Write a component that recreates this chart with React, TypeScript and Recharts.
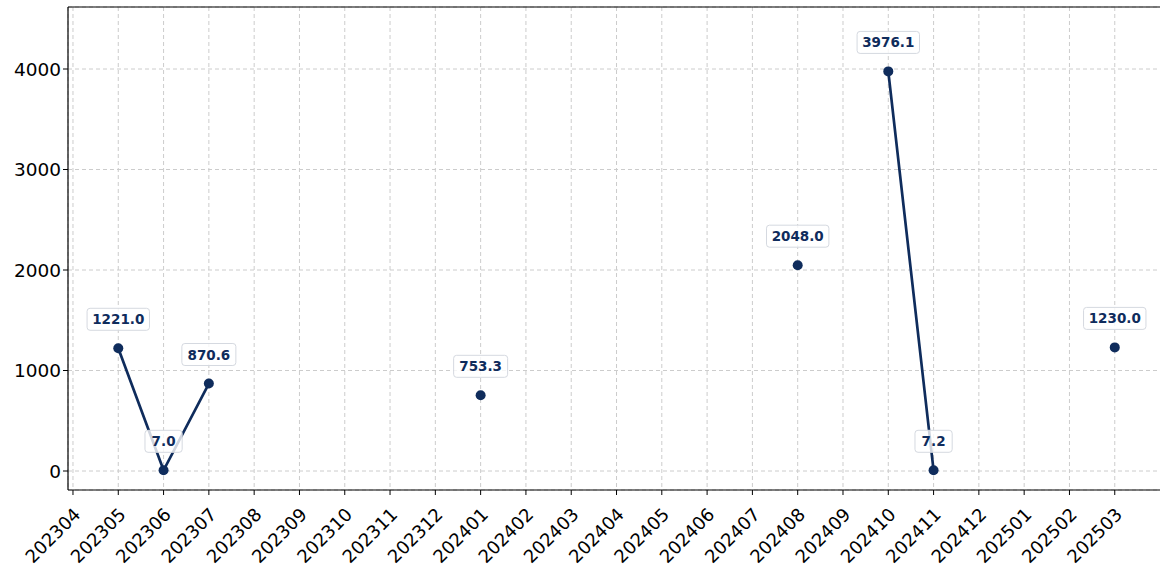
import React from 'react';
import { LineChart, Line, XAxis, YAxis, CartesianGrid, LabelList, ReferenceLine } from 'recharts';

const months = [
  '202304', '202305', '202306', '202307', '202308', '202309', '202310', '202311',
  '202312', '202401', '202402', '202403', '202404', '202405', '202406', '202407',
  '202408', '202409', '202410', '202411', '202412', '202501', '202502', '202503',
];

const values: (number | null)[] = [
  null, 1221.0, 7.0, 870.6, null, null, null, null,
  null, 753.3, null, null, null, null, null, null,
  2048.0, null, 3976.1, 7.2, null, null, null, 1230.0,
];

const yTicks = [0, 1000, 2000, 3000, 4000];

const data = months.map((m, i) => ({ idx: i, month: m, value: values[i] }));

const NAVY = '#0f2c5c';
const FONT = 'DejaVu Sans, sans-serif';
const Y_MAX = 4617;

const XTick = (props: any) => {
  const { x, y, payload } = props;
  return (
    <text
      x={0}
      y={0}
      transform={`translate(${x - 1}, ${y + 9}) rotate(-45)`}
      textAnchor="end"
      dominantBaseline="hanging"
      fontSize={18}
      fontFamily={FONT}
      fill="#000"
    >
      {months[payload.value]}
    </text>
  );
};

const ValueLabel = (props: any) => {
  const { x, y, value } = props;
  if (value === null || value === undefined) return null;
  const txt = Number(value).toFixed(1);
  const w = txt.length * 8.4 + 12;
  const h = 22;
  const cy = y - 29;
  return (
    <g>
      <rect
        x={x - w / 2}
        y={cy - h / 2}
        width={w}
        height={h}
        rx={3}
        fill="#ffffff"
        fillOpacity={0.8}
        stroke="#d5d9e0"
        strokeWidth={1}
      />
      <text
        x={x}
        y={cy}
        textAnchor="middle"
        dominantBaseline="central"
        fontSize={13.5}
        fontWeight="bold"
        fontFamily={FONT}
        fill={NAVY}
      >
        {txt}
      </text>
    </g>
  );
};

export default function App() {
  return (
    <div style={{ position: 'absolute', left: 0, top: 0, width: 1160, height: 566, background: '#fff', overflow: 'hidden' }}>
      <LineChart
        width={1175}
        height={566}
        data={data}
        margin={{ top: 7, right: 0, bottom: 0, left: 8 }}
      >
        <CartesianGrid stroke="#cccccc" strokeDasharray="4 3" />
        <XAxis
          dataKey="idx"
          type="number"
          domain={[-0.11, 24.33]}
          ticks={months.map((_, i) => i)}
          interval={0}
          tick={<XTick />}
          tickLine={{ stroke: '#000' }}
          tickSize={5}
          axisLine={{ stroke: '#000', strokeWidth: 1.2 }}
          height={76}
          allowDataOverflow
        />
        <YAxis
          type="number"
          domain={[-189, Y_MAX]}
          ticks={yTicks}
          interval={0}
          width={60}
          tick={{ fontSize: 18.5, fontFamily: FONT, fill: '#000' }}
          tickLine={{ stroke: '#000' }}
          tickSize={5}
          axisLine={{ stroke: '#000', strokeWidth: 1.2 }}
          allowDataOverflow
        />
        <ReferenceLine y={Y_MAX} stroke="#000" strokeWidth={1.2} ifOverflow="visible" />
        <Line
          type="linear"
          dataKey="value"
          stroke={NAVY}
          strokeWidth={2.7}
          dot={{ r: 5, fill: NAVY, stroke: NAVY, strokeWidth: 0 }}
          activeDot={false}
          connectNulls={false}
          isAnimationActive={false}
        >
          <LabelList dataKey="value" content={<ValueLabel />} />
        </Line>
      </LineChart>
    </div>
  );
}
